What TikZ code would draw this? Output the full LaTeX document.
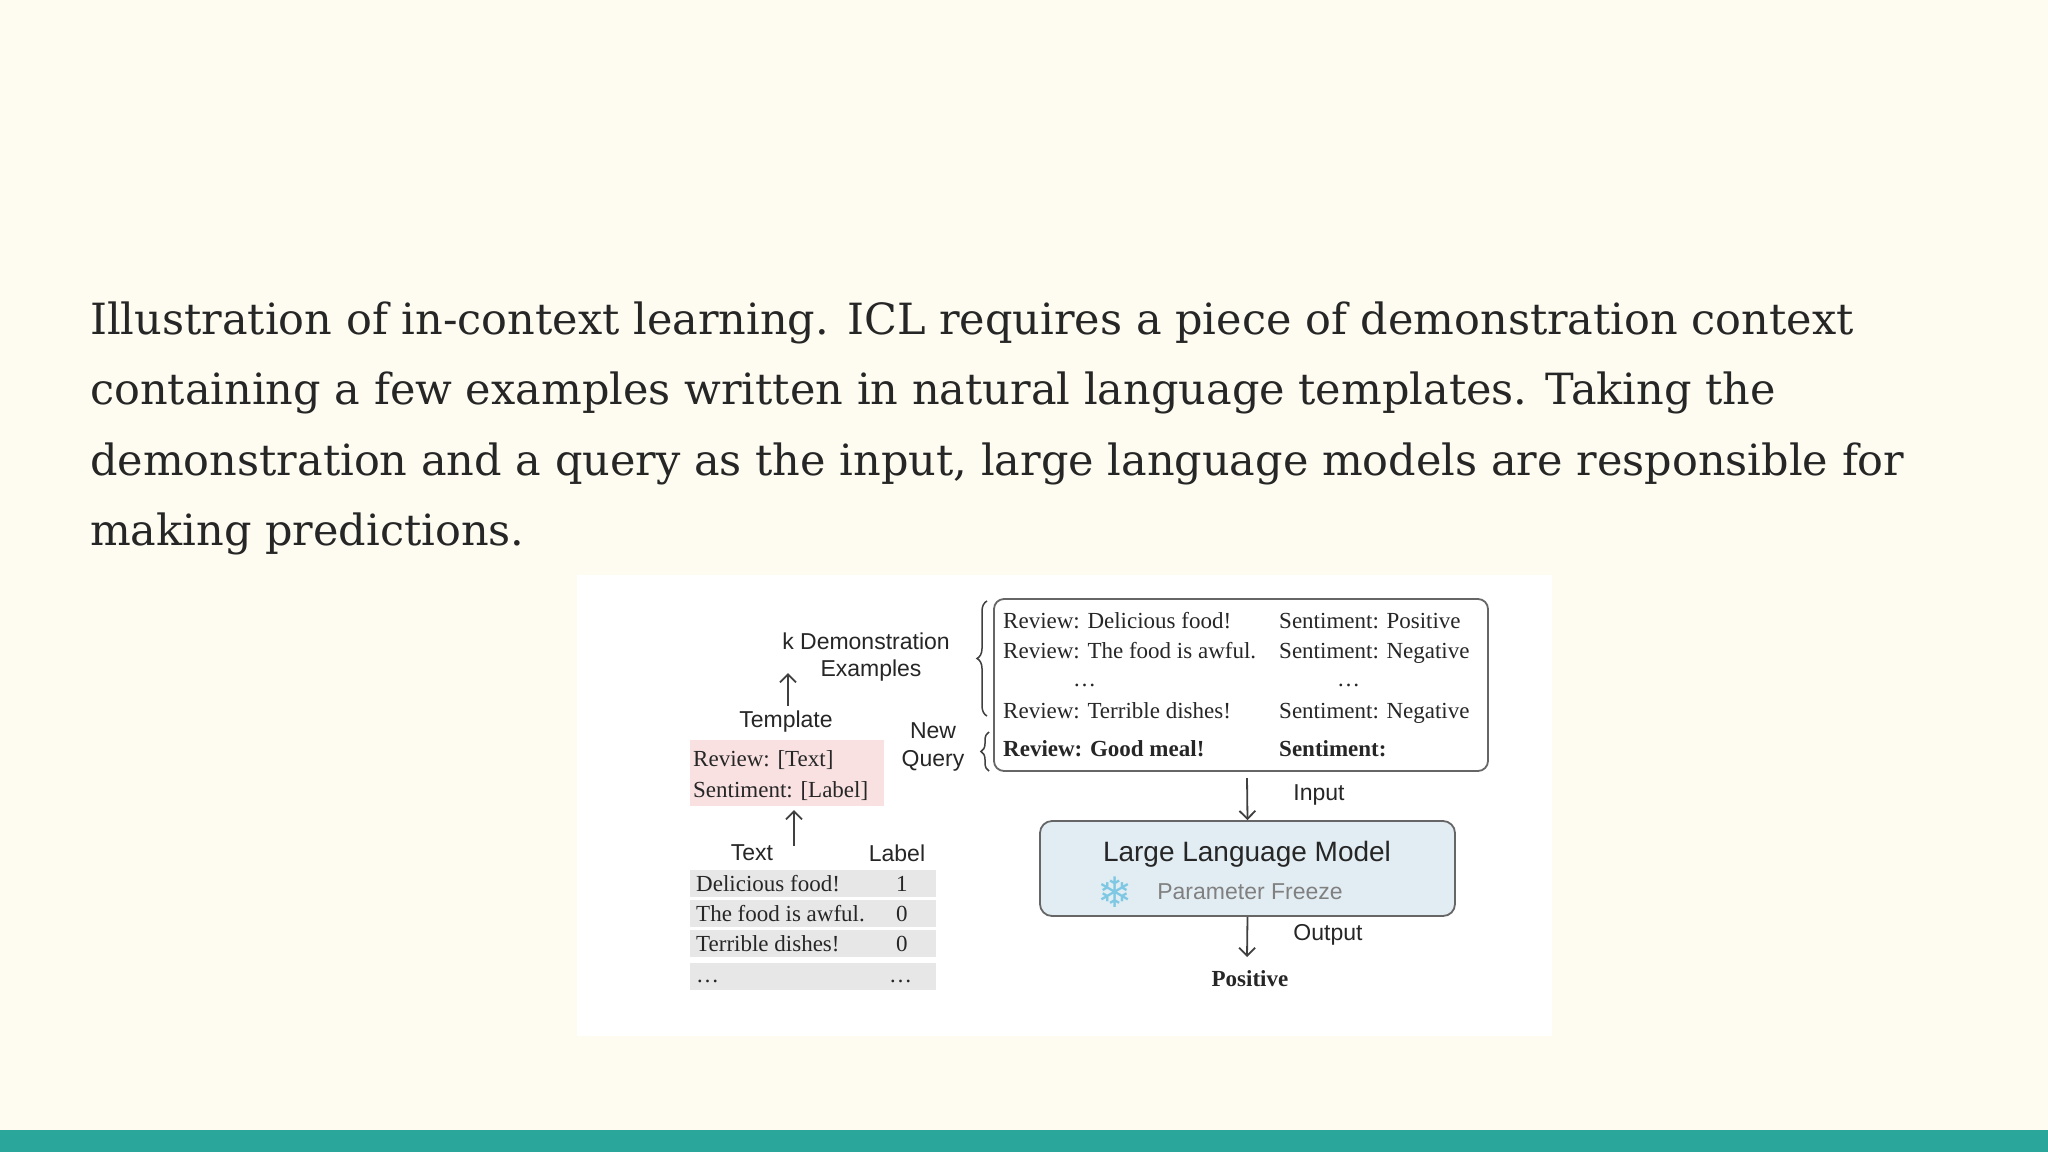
\documentclass[tikz,border=0pt]{standalone}
\usepackage{fontspec}
\setmainfont{DejaVu Serif}
\newfontfamily\figserif{Liberation Serif}
\newfontfamily\figsans{Liberation Sans}
\newfontfamily\symfont{DejaVu Sans}
\usetikzlibrary{decorations.pathreplacing,arrows.meta}
\definecolor{bgcream}{HTML}{FEFCF0}
\definecolor{teal}{HTML}{2AA79A}
\definecolor{pinkbox}{HTML}{F9E1E1}
\definecolor{grayrow}{HTML}{E7E7E7}
\definecolor{llmfill}{HTML}{E2EDF3}
\definecolor{snow}{HTML}{7EC8E3}
\tikzset{
 para/.style={anchor=base west,inner sep=0pt,font=\fontsize{43}{46}\selectfont,text=black!85},
 ser/.style={anchor=base west,inner sep=0pt,font=\figserif\fontsize{23}{26}\selectfont,text=black!85},
 serb/.style={ser,font=\figserif\bfseries\fontsize{23}{26}\selectfont},
 sans/.style={inner sep=0pt,font=\figsans\fontsize{23}{26}\selectfont,text=black!85},
 arr/.style={-{Straight Barb[length=8pt,width=16pt]},line width=1.8pt,black!75},
 row/.style={fill=grayrow,draw=none},
}
\begin{document}
\begin{tikzpicture}[x=1pt,y=-1pt]
\fill[bgcream] (0,0) rectangle (2048,1152);
\useasboundingbox (0,0) rectangle (2048,1152);
\fill[teal] (0,1130) rectangle (2048,1152);
\node[para] (p1) at (90,334) {Illustration of in-context learning. ICL requires a piece of demonstration context};
\node[para] (p2) at (90,404) {containing a few examples written in natural language templates. Taking the};
\node[para] (p3) at (90,475) {demonstration and a query as the input, large language models are responsible for};
\node[para] (p4) at (90,545) {making predictions.};
\fill[white] (577,575) rectangle (1552,1036);
% left part
\node[sans] (kd) at (866,641) {k Demonstration};
\node[sans] (ex) at (871,671) {Examples};
\node[sans] (tpl) at (786,722) {Template};
\fill[pinkbox] (690,740) rectangle (884,806);
\node[ser] (rt) at (693,766) {Review: [Text]};
\node[ser] (sl) at (693,797) {Sentiment: [Label]};
\coordinate (a1s) at (788,706); \coordinate (a1e) at (788,673);
\draw[arr] (a1s) -- (a1e);
\coordinate (a2s) at (794,846); \coordinate (a2e) at (794,810);
\draw[arr] (a2s) -- (a2e);
\node[sans] (tx) at (752,853) {Text};
\node[sans] (lb) at (897,853) {Label};
\fill[row] (690,870) rectangle (936,897);
\fill[row] (690,900) rectangle (936,927);
\fill[row] (690,930) rectangle (936,957);
\fill[row] (690,963) rectangle (936,990);
\node[ser] (r1) at (696,891) {Delicious food!};
\node[ser] (r2) at (696,921) {The food is awful.};
\node[ser] (r3) at (696,951) {Terrible dishes!};
\node[ser] (r4) at (696,982) {\dots};
\node[ser] (l1) at (896,891) {1};
\node[ser] (l2) at (896,921) {0};
\node[ser] (l3) at (896,951) {0};
\node[ser] (l4) at (889,982) {\dots};
\node[sans] (nw) at (933,731) {New};
\node[sans] (qr) at (933,761) {Query};
% braces
\coordinate (b1a) at (987,716); \coordinate (b1b) at (987,601);
\draw[decorate,decoration={brace,amplitude=10pt},line width=1.5pt,black!75] (b1a) -- (b1b);
\coordinate (b2a) at (989,771); \coordinate (b2b) at (989,732);
\draw[decorate,decoration={brace,amplitude=8pt},line width=1.5pt,black!75] (b2a) -- (b2b);
% demo box
\draw[rounded corners=10pt,line width=1.8pt,black!60] (994,599) rectangle (1488,771);
\node[ser] (d1) at (1003,628) {Review: Delicious food!};
\node[ser] (d2) at (1003,658) {Review: The food is awful.};
\node[ser] (d3) at (1073,686) {\dots};
\node[ser] (d4) at (1003,718) {Review: Terrible dishes!};
\node[serb] (d5) at (1003,756) {Review: Good meal!};
\node[ser] (s1) at (1279,628) {Sentiment: Positive};
\node[ser] (s2) at (1279,658) {Sentiment: Negative};
\node[ser] (s3) at (1337,686) {\dots};
\node[ser] (s4) at (1279,718) {Sentiment: Negative};
\node[serb] (s5) at (1279,756) {Sentiment:};
% LLM
\node[draw=black!60,line width=1.8pt,fill=llmfill,rounded corners=12pt,minimum width=415pt,minimum height=95pt] (llm) at (1247.5,868.5) {};
\node[sans,font=\figsans\fontsize{28}{30}\selectfont,text=black!85] (llmt) at (1247,854) {Large Language Model};
\node[inner sep=0pt,text=snow,font=\symfont\fontsize{42}{42}\selectfont] (sf) at (1115,892) {❄};
\node[sans,text=black!50,font=\figsans\fontsize{23}{24}\selectfont] (pf) at (1250,892) {Parameter Freeze};
\coordinate (i1) at (1247,778);
\draw[arr] (i1) -- (llm.north);
\node[sans] (inp) at (1319,795) {Input};
\node[serb,anchor=center] (pos) at (1250,979) {Positive};
\coordinate (o1) at (1247,957);
\draw[arr] (llm.south) -- (o1);
\node[sans] (out) at (1328,935) {Output};
\end{tikzpicture}
\end{document}
